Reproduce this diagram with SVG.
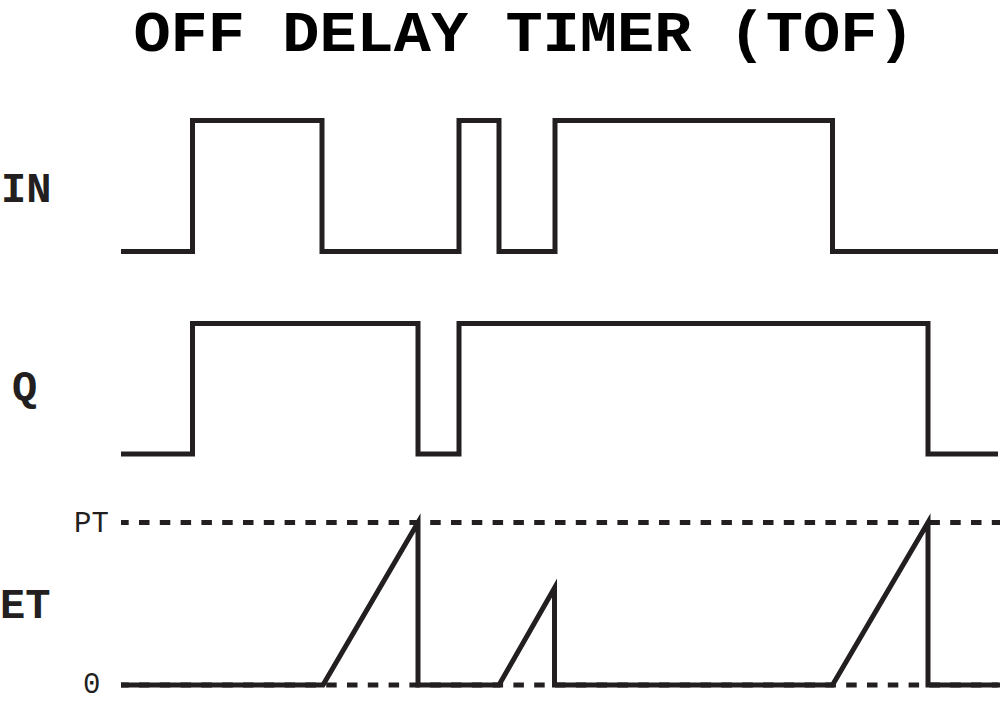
<svg xmlns="http://www.w3.org/2000/svg" width="1000" height="715" viewBox="0 0 1000 715">
  <style>
    .wave { fill: none; stroke: #231F20; stroke-width: 5; stroke-linejoin: miter; stroke-linecap: butt; }
    .ref { fill: none; stroke: #231F20; stroke-width: 5; stroke-dasharray: 10.5 10.3; stroke-dashoffset: 2.8; }
    .title { font-family: "Liberation Mono", "DejaVu Sans Mono", monospace; font-weight: bold; font-size: 62px; fill: #000; }
    .sig { font-family: "Liberation Mono", "DejaVu Sans Mono", monospace; font-weight: bold; font-size: 42px; fill: #231F20; }
    .lvl { font-family: "Liberation Mono", "DejaVu Sans Mono", monospace; font-size: 29px; fill: #231F20; }
  </style>
  <rect width="1000" height="715" fill="#FFFFFF"/>
  <g id="title" transform="translate(0,51) scale(1,0.92)">
    <text class="title" x="524" y="0" text-anchor="middle">OFF DELAY TIMER (TOF)</text>
  </g>

  <g id="signal-IN">
    <text class="sig" x="1" y="202">IN</text>
    <path class="wave" d="M121,251.5 H192.5 V120.5 H322 V251.5 H459 V120.5 H499 V251.5 H555 V120.5 H832.5 V251.5 H998"/>
  </g>

  <g id="signal-Q">
    <text class="sig" x="12" y="400">Q</text>
    <path class="wave" d="M121,454 H192.5 V323.5 H418 V454 H459 V323.5 H928 V454 H998"/>
  </g>

  <g id="signal-ET">
    <text class="sig" x="0" y="618">ET</text>
    <text class="lvl" x="74" y="532">PT</text>
    <text class="lvl" x="83" y="693">0</text>
    <path class="ref" d="M121,522.5 H1000"/>
    <path class="ref" d="M121,685 H1000"/>
    <path class="wave" d="M121,685 H323 L418,522.5 V685 H499 L554.5,588 V685 H832.5 L928,522.5 V685 H998"/>
  </g>
</svg>
